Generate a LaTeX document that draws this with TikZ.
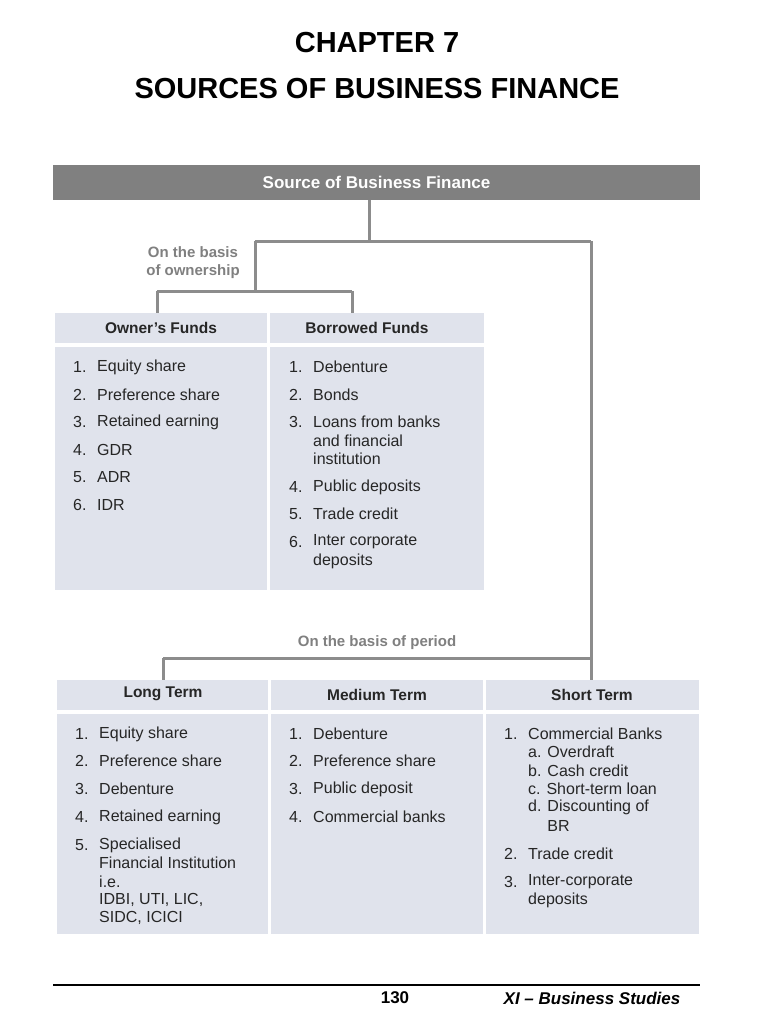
\documentclass[tikz,border=0pt]{standalone}
\usepackage{fontspec}
\setmainfont{Liberation Sans}
\begin{document}
\begin{tikzpicture}[x=1pt,y=-1pt,
  conn/.style={draw=linegray,line width=3pt},
  hdr/.style={fill=boxfill,draw=none},
  hdrtxt/.style={font=\fontsize{15.5}{18}\selectfont\bfseries,text=black!85},
  itm/.style={anchor=west,inner sep=0pt,font=\fontsize{16}{18}\selectfont,text=black!85},
  lbl/.style={font=\fontsize{15}{18}\selectfont\bfseries,text=black!50,align=center}]
\definecolor{linegray}{HTML}{8C8C8C}
\definecolor{boxfill}{HTML}{E0E3EC}
\definecolor{topbar}{HTML}{808080}
\useasboundingbox (0,0) rectangle (768,1024);
\fill[white] (0,0) rectangle (768,1024);
\node[font=\fontsize{29}{34}\selectfont\bfseries] (t1) at (377,43) {CHAPTER 7};
\node[font=\fontsize{29}{34}\selectfont\bfseries] (t2) at (377,89) {SOURCES OF BUSINESS FINANCE};
% top bar
\node[fill=topbar,minimum width=647pt,minimum height=35pt,inner sep=0pt,text=white,font=\fontsize{17}{20}\selectfont\bfseries] (sbf) at (376.5,182.5) {Source of Business Finance};
% connectors
\coordinate (j1) at (369,241);
\coordinate (jl) at (255,241);
\coordinate (jr) at (591,241);
\coordinate (j2) at (255,291);
\coordinate (ol) at (157,291);
\coordinate (or) at (352,291);
\coordinate (pl) at (163,658);
\coordinate (pr) at (591,658);
\draw[conn] (sbf.south -| j1) -- (j1);
\draw[conn] (jl) -- (jr);
\draw[conn] (jl) -- (j2);
\draw[conn] (ol) -- (or);
\draw[conn] (ol) -- (157,313);
\draw[conn] (or) -- (352,313);
\draw[conn] (jr) -- (591,680);
\draw[conn] (pl) -- (pr);
\draw[conn] (pl) -- (163,680);
\node[lbl] (lo) at (193,263) {On the basis\\of ownership};
\node[lbl] (lp) at (377,643) {On the basis of period};
% ownership boxes
\fill[boxfill] (55,313) rectangle (267,343);
\fill[boxfill] (270,313) rectangle (484,343);
\fill[boxfill] (55,347) rectangle (267,590);
\fill[boxfill] (270,347) rectangle (484,590);
\node[hdrtxt] (of) at (161,328) {Owner’s Funds};
\node[hdrtxt] (bf) at (367,328) {Borrowed Funds};
\foreach \n/\t/\y in {1/Equity share/367,2/Preference share/395,3/Retained earning/422,4/GDR/450,5/ADR/477,6/IDR/505}{
  \node[itm] (on\n) at (73,\y) {\n.}; \node[itm] (ot\n) at (97,\y) {\t};}
\foreach \n/\t/\y in {1/Debenture/367,2/Bonds/395,3/Loans from banks/422,4/Public deposits/487,5/Trade credit/514,6/Inter corporate/542}{
  \node[itm] (bn\n) at (289,\y) {\n.}; \node[itm] (bt\n) at (313,\y) {\t};}
\node[itm] (bc1) at (313,441) {and financial};
\node[itm] (bc2) at (313,459) {institution};
\node[itm] (bc3) at (313,561) {deposits};
% period boxes
\fill[boxfill] (57,680) rectangle (268,710);
\fill[boxfill] (271,680) rectangle (483,710);
\fill[boxfill] (486,680) rectangle (699,710);
\fill[boxfill] (57,714) rectangle (268,934);
\fill[boxfill] (271,714) rectangle (483,934);
\fill[boxfill] (486,714) rectangle (699,934);
\node[hdrtxt] (lt) at (163,694) {Long Term};
\node[hdrtxt] (mt) at (377,695) {Medium Term};
\node[hdrtxt] (st) at (592,695) {Short Term};
\foreach \n/\t/\y in {1/Equity share/734,2/Preference share/761,3/Debenture/789,4/Retained earning/817,5/Specialised/845}{
  \node[itm] (ln\n) at (75,\y) {\n.}; \node[itm] (lt\n) at (99,\y) {\t};}
\foreach \t/\y [count=\i] in {Financial Institution/863,i.e./882,{IDBI, UTI, LIC,}/900,{SIDC, ICICI}/918}{
  \node[itm] (lc\i) at (99,\y) {\t};}
\foreach \n/\t/\y in {1/Debenture/734,2/Preference share/761,3/Public deposit/789,4/Commercial banks/817}{
  \node[itm] (mn\n) at (289,\y) {\n.}; \node[itm] (mt\n) at (313,\y) {\t};}
\foreach \n/\t/\y in {1/Commercial Banks/734,2/Trade credit/854,3/Inter-corporate/882}{
  \node[itm] (sn\n) at (504,\y) {\n.}; \node[itm] (st\n) at (528,\y) {\t};}
\foreach \t/\y [count=\i] in {a. Overdraft/752,b. Cash credit/771,c. Short-term loan/789,d. Discounting of/807,\phantom{d. }BR/826,deposits/900}{
  \node[itm] (sc\i) at (528,\y) {\t};}
% footer
\draw[line width=2.5pt] (53,985) -- (700,985);
\node[font=\fontsize{17}{20}\selectfont\bfseries] (pg) at (395,998) {130};
\node[font=\fontsize{17}{20}\selectfont\bfseries\itshape] (bs) at (592,998) {XI – Business Studies};
\end{tikzpicture}
\end{document}
